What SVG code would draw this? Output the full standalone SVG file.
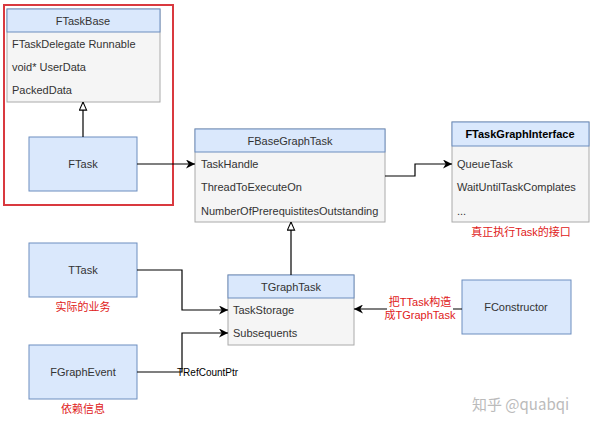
<svg xmlns="http://www.w3.org/2000/svg" width="600" height="429" viewBox="0 0 600 429">
<style>
text{font-family:"Liberation Sans",Arial,sans-serif;font-size:11px;fill:#333}
.h{fill:#dae8fc;stroke:#6c8ebf}
.b{fill:#f5f5f5;stroke:#aaa}
.c{text-anchor:middle}
.r{fill:#e02020;font-family:"Liberation Sans","Noto Sans CJK SC",sans-serif;font-size:11px}
.l{fill:none;stroke:#000;stroke-width:1.2}
</style>
<defs>
<marker id="a" viewBox="0 0 10 10" refX="10" refY="5" markerWidth="9" markerHeight="9" markerUnits="userSpaceOnUse" orient="auto"><path d="M0,0L10,5L0,10L3,5z" fill="#000"/></marker>
<marker id="t" viewBox="0 0 10 10" refX="10" refY="5" markerWidth="9" markerHeight="9" markerUnits="userSpaceOnUse" orient="auto"><path d="M1,1L10,5L1,9z" fill="#fff" stroke="#000" stroke-width="1.2"/></marker>
</defs>
<rect x="4" y="5" width="169" height="200" fill="none" stroke="#d9393f" stroke-width="2"/>
<g id="FTaskBase"><rect class="b" x="7" y="9" width="153" height="93"/><rect class="h" x="7" y="9" width="153" height="23"/><text class="c" x="83" y="25">FTaskBase</text><text x="12" y="48">FTaskDelegate Runnable</text><text x="12" y="71">void* UserData</text><text x="12" y="94">PackedData</text></g>
<g id="FTask"><rect class="h" x="29" y="137" width="108" height="54"/><text class="c" x="83" y="168">FTask</text></g>
<g id="FBaseGraphTask"><rect class="b" x="195" y="129" width="190" height="93"/><rect class="h" x="195" y="129" width="190" height="23"/><text class="c" x="290" y="145">FBaseGraphTask</text><text x="201" y="168">TaskHandle</text><text x="201" y="191">ThreadToExecuteOn</text><text x="201" y="215">NumberOfPrerequistitesOutstanding</text></g>
<g id="FTaskGraphInterface"><rect class="b" x="452" y="122" width="137" height="100"/><rect class="h" x="452" y="122" width="137" height="24"/><text class="c" x="520" y="138" style="font-weight:bold;fill:#000">FTaskGraphInterface</text><text x="457" y="168">QueueTask</text><text x="457" y="191">WaitUntilTaskComplates</text><text x="457" y="215">...</text><text class="r c" x="521" y="236">真正执行Task的接口</text></g>
<g id="TTask"><rect class="h" x="29" y="243" width="108" height="54"/><text class="c" x="83" y="274">TTask</text><text class="r c" x="83" y="311">实际的业务</text></g>
<g id="TGraphTask"><rect class="b" x="228" y="275" width="126" height="70"/><rect class="h" x="228" y="275" width="126" height="23"/><text class="c" x="291" y="291">TGraphTask</text><text x="233" y="314">TaskStorage</text><text x="233" y="337">Subsequents</text></g>
<g id="FConstructor"><rect class="h" x="462" y="280" width="109" height="54"/><text class="c" x="516" y="311">FConstructor</text></g>
<g id="FGraphEvent"><rect class="h" x="29" y="345" width="108" height="54"/><text class="c" x="83" y="376">FGraphEvent</text><text class="r c" x="83" y="413">依赖信息</text></g>
<g id="connectors">
<path class="l" d="M83,137V102" marker-end="url(#t)"/>
<path class="l" d="M137,164H195" marker-end="url(#a)"/>
<path class="l" d="M385,176H415V164H452" marker-end="url(#a)"/>
<path class="l" d="M291,275V222" marker-end="url(#t)"/>
<path class="l" d="M137,270H182V310H228" marker-end="url(#a)"/>
<path class="l" d="M137,372H182V333H228" marker-end="url(#a)"/>
<path class="l" d="M462,309H354" marker-end="url(#a)"/>
<rect x="387" y="296" width="66" height="26" fill="#fff"/>
<text class="r c" x="420" y="306">把TTask构造</text><text class="r c" x="420" y="319">成TGraphTask</text>
<text x="177" y="376" style="font-size:10px;fill:#000">TRefCountPtr</text>
</g>
<text x="472" y="410" style="font-family:'Noto Sans CJK SC',sans-serif;font-size:15px;fill:#bbb">知乎 @quabqi</text>
</svg>
